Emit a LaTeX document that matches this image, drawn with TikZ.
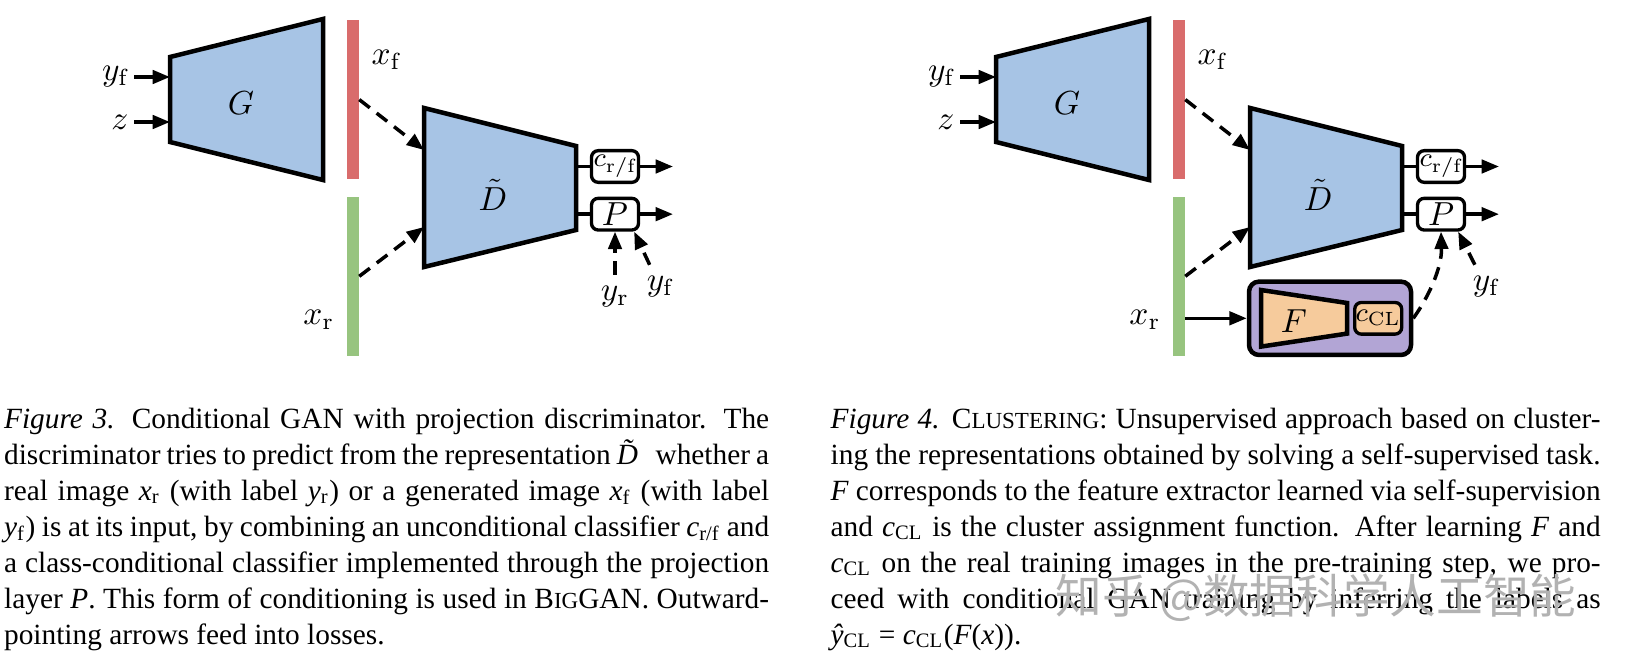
\documentclass[tikz,border=0pt]{standalone}
\usepackage{fontspec}
\usepackage{amsmath}
\usepackage{xcolor}
\usepackage{tikz}
\usetikzlibrary{arrows.meta,positioning}

\newfontfamily\capfont{Liberation Serif}
\newfontfamily\cjkfont{Noto Sans CJK SC}
\definecolor{gblue}{HTML}{A7C4E5}
\definecolor{fakered}{HTML}{D96C6C}
\definecolor{realgreen}{HTML}{97C47F}
\definecolor{clpurple}{HTML}{B2A5D5}
\definecolor{featorange}{HTML}{F6CB9C}
% fake small caps and italic letter with upright index for the captions
\newcommand{\fsc}[1]{{\fontsize{6.9}{8}\selectfont #1}}
\newcommand{\isub}[2]{\textit{#1}\textsubscript{#2}}

\begin{document}
\begin{tikzpicture}[
  x=0.3pt, y=-0.3pt,
  net/.style={draw=black, line width=1.35pt, fill=gblue},
  lbl/.style={inner sep=1.5pt},
  outbox/.style={draw=black, line width=1pt, fill=white, rounded corners=2pt,
                 minimum width=14.1pt, minimum height=9.5pt, inner sep=0pt},
  small/.style={font=\fontsize{8.2}{9}\selectfont},
  bar/.style={minimum width=3.6pt, minimum height=47.8pt, inner sep=0pt},
  clbox/.style={draw=black, line width=1.35pt, fill=clpurple, rounded corners=3pt,
                minimum width=48.6pt, minimum height=22pt, inner sep=0pt},
  arr/.style={-{Triangle[length=5.2pt,width=4pt]}, line width=1.05pt},
  darr/.style={arr, dash pattern=on 4pt off 2.6pt},
  link/.style={line width=1.05pt},
  captext/.style={anchor=north west, inner sep=0pt, align=justify,
              font=\capfont\fontsize{8.8}{10.8}\selectfont}
]
\useasboundingbox (0,0) rectangle (1625,661);

% Figure 3: projection discriminator
\draw[net] (170,57) coordinate (G1a) -- (323,19) -- (323,180) -- (170,142) -- cycle;
\node (G1) at (241,103) {$G$};
\node[lbl, anchor=east] (yf1) at (134,77) {$y_{\mathrm{f}}$};
\node[lbl, anchor=east] (z1) at (134,122) {$z$};
\draw[arr] (yf1.east) -- (yf1.east -| G1a);
\draw[arr] (z1.east) -- (z1.east -| G1a);
\node[bar, fill=fakered] (xf1) at (352.6,99.6) {};
\node[bar, fill=realgreen] (xr1) at (352.6,276.3) {};
\node (xflab1) at (386,60) {$x_{\mathrm{f}}$};
\node (xrlab1) at (319,320) {$x_{\mathrm{r}}$};
\draw[net] (424,108) -- (576,146) coordinate (D1b) -- (576,230) -- (424,267) -- cycle;
\node (D1) at (493,195) {$\tilde{D}$};
\coordinate (D1hi) at (424,150);
\coordinate (D1lo) at (424,227);
\draw[darr] (xf1.east) -- (D1hi);
\draw[darr] (xr1.east) -- (D1lo);
\node[outbox, small] (crf1) at (615,166.5) {$c_{\mathrm{r/f}}$};
\node[outbox, below=3.8pt of crf1] (P1) {$P$};
\draw[link] (crf1.west -| D1b) -- (crf1);
\draw[link] (P1.west -| D1b) -- (P1);
\coordinate (loss1) at (673,0);
\draw[arr] (crf1) -- (crf1.east -| loss1);
\draw[arr] (P1) -- (P1.east -| loss1);
\node (yr1) at (615,297) {$y_{\mathrm{r}}$};
\draw[darr] (yr1) -- (P1);
\node (yfb1) at (660,287) {$y_{\mathrm{f}}$};
\draw[darr] (yfb1) -- ([xshift=-1.8pt]P1.south east);

% Figure 4: clustering
\draw[net] (996,57) coordinate (G2a) -- (1149,19) -- (1149,180) -- (996,142) -- cycle;
\node (G2) at (1067,103) {$G$};
\node[lbl, anchor=east] (yf2) at (960,77) {$y_{\mathrm{f}}$};
\node[lbl, anchor=east] (z2) at (960,122) {$z$};
\draw[arr] (yf2.east) -- (yf2.east -| G2a);
\draw[arr] (z2.east) -- (z2.east -| G2a);
\node[bar, fill=fakered] (xf2) at (1178.6,99.6) {};
\node[bar, fill=realgreen] (xr2) at (1178.6,276.3) {};
\node (xflab2) at (1212,60) {$x_{\mathrm{f}}$};
\node (xrlab2) at (1145,320) {$x_{\mathrm{r}}$};
\draw[net] (1250,108) -- (1402,146) coordinate (D2b) -- (1402,230) -- (1250,267) -- cycle;
\node (D2) at (1318,195) {$\tilde{D}$};
\coordinate (D2hi) at (1250,150);
\coordinate (D2lo) at (1250,227);
\draw[darr] (xf2.east) -- (D2hi);
\draw[darr] (xr2.east) -- (D2lo);
\node[outbox, small] (crf2) at (1441,166.5) {$c_{\mathrm{r/f}}$};
\node[outbox, below=3.8pt of crf2] (P2) {$P$};
\draw[link] (crf2.west -| D2b) -- (crf2);
\draw[link] (P2.west -| D2b) -- (P2);
\coordinate (loss2) at (1499,0);
\draw[arr] (crf2) -- (crf2.east -| loss2);
\draw[arr] (P2) -- (P2.east -| loss2);
\node (yfb2) at (1486,287) {$y_{\mathrm{f}}$};
\draw[darr] (yfb2) -- ([xshift=-2.4pt]P2.south east);
\node[clbox] (cl) at (1330,318.3) {};
\draw[net, fill=featorange] (1261,290) -- (1347,303) -- (1347,333.6) -- (1261,346.6) -- cycle;
\node (F) at (1294,321) {$F$};
\node[outbox, small, fill=featorange] (ccl) at (1378.2,318.3) {$c_{\mathrm{CL}}$};
\draw[arr] (xr2.east |- cl.west) -- (cl.west);
\draw[darr] (cl.east) .. controls (1428,298) and (1442,268) .. (P2.south);

% captions
\node[captext, text width=229.5pt] (cap3) at (3.5,407) {%
{\itshape Figure 3.} Conditional GAN with projection discriminator. The\linebreak
discriminator tries to predict from the representation \textit{\~D} whether a\linebreak
real image \isub{x}{r} (with label \isub{y}{r}) or a generated image \isub{x}{f} (with label\linebreak
\isub{y}{f}) is at its input, by combining an unconditional classifier \isub{c}{r/f} and\linebreak
a class-conditional classifier implemented through the projection\linebreak
layer \textit{P}. This form of conditioning is used in B\fsc{IG}GAN. Outward-\linebreak
pointing arrows feed into losses.};
\node[captext, text width=231pt] (cap4) at (830,407) {%
{\itshape Figure 4.} C\fsc{LUSTERING}: Unsupervised approach based on cluster-\linebreak
ing the representations obtained by solving a self-supervised task.\linebreak
\textit{F} corresponds to the feature extractor learned via self-supervision\linebreak
and \isub{c}{CL} is the cluster assignment function. After learning \textit{F} and\linebreak
\isub{c}{CL} on the real training images in the pre-training step, we pro-\linebreak
ceed with conditional GAN training by inferring the labels as\linebreak
\isub{\^y}{CL} = \isub{c}{CL}(\textit{F}(\textit{x})).};
\node[text=black!30, font=\cjkfont\fontsize{14}{14}\selectfont] (wm) at (1316,598) {知乎 @数据科学人工智能};
\end{tikzpicture}
\end{document}
